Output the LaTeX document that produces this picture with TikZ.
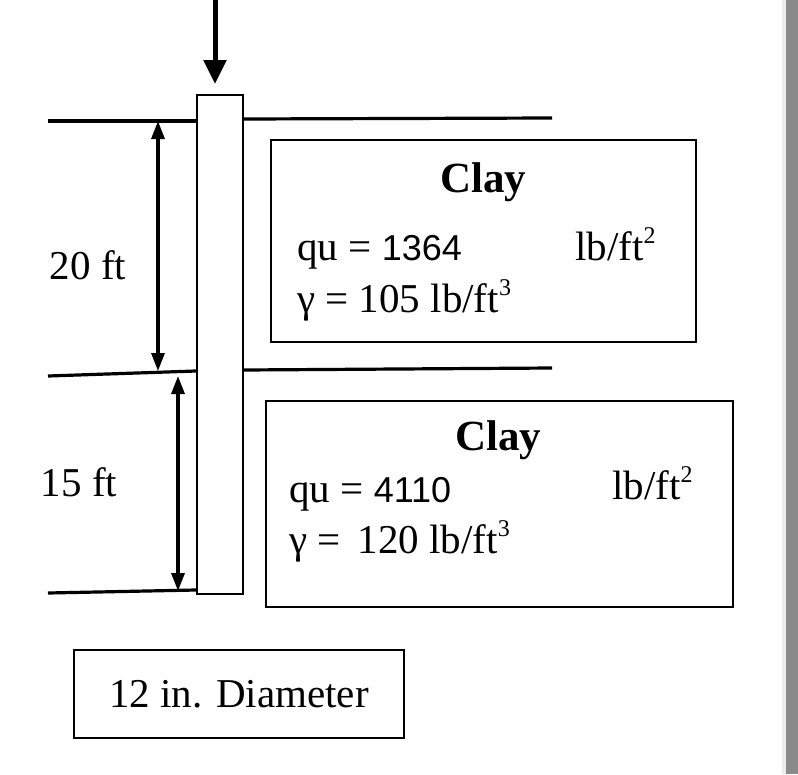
\documentclass[tikz,border=0pt]{standalone}
\usepackage{fontspec}
\setmainfont{Liberation Serif}
\newfontfamily\arialf{Liberation Sans}
\usetikzlibrary{arrows.meta}
\newcommand{\supx}[1]{\raisebox{0.9ex}{\fontsize{24}{28}\selectfont #1}}
\begin{document}
\begin{tikzpicture}[x=1pt,y=-1pt,
  ln/.style={line width=3.2pt},
  box/.style={draw,line width=2pt},
  dim/.style={line width=3.2pt,{Triangle[length=18pt,width=13pt]}-{Triangle[length=18pt,width=13pt]}},
  txt/.style={font=\fontsize{41}{48}\selectfont,inner sep=0pt}]
\useasboundingbox (0,0) rectangle (798,774);
\fill[gray!15] (782,0) rectangle (786,774);
\fill[black!46] (786,0) rectangle (798,774);
\coordinate (a0) at (215,0);
\node[draw,line width=2pt,minimum width=46pt,minimum height=499pt,inner sep=0pt,anchor=north west] (pile) at (196,94) {};
\draw[line width=5pt,-{Triangle[length=24pt,width=22pt]}] (a0) -- (215,84);
\draw[ln] (48,121) -- (pile.west |- 0,121);
\draw[ln] (pile.east |- 0,119) -- (552,118);
\draw[ln] (48,376) -- (pile.west |- 0,371);
\draw[ln] (pile.east |- 0,370) -- (552,368);
\draw[ln] (48,593) -- (pile.west |- 0,590);
\coordinate (d1a) at (158,121); \coordinate (d1b) at (158,371);
\coordinate (d2a) at (178,376); \coordinate (d2b) at (178,591);
\draw[dim] (d1a) -- (d1b);
\draw[dim] (d2a) -- (d2b);
\node[txt] (l20) at (88,265) {20 ft};
\node[txt] (l15) at (79,482) {15 ft};
\node[box,minimum width=425pt,minimum height=202pt,anchor=north west] (b1) at (270,139) {};
\node[txt,font=\fontsize{43}{48}\selectfont\bfseries] (c1) at (483,182) {Clay};
\node[txt,anchor=base west] (q1) at (297,260) {qu = {\arialf\fontsize{36}{42}\selectfont 1364}};
\node[txt,anchor=base west] (u1) at (575,260) {lb/ft\supx{2}};
\node[txt,anchor=base west] (g1) at (297,312) {γ = 105 lb/ft\supx{3}};
\node[box,minimum width=467pt,minimum height=206pt,anchor=north west] (b2) at (265,400) {};
\node[txt,font=\fontsize{43}{48}\selectfont\bfseries] (c2) at (498,440) {Clay};
\node[txt,anchor=base west] (q2) at (289,502) {qu = {\arialf\fontsize{36}{42}\selectfont 4110}};
\node[txt,anchor=base west] (u2) at (612,499) {lb/ft\supx{2}};
\node[txt,anchor=base west] (g2) at (289,553) {γ =\, 120 lb/ft\supx{3}};
\node[box,minimum width=330pt,minimum height=88pt,anchor=north west] (b3) at (73,649) {};
\node[txt] (dia) at (b3.center) {12 in. Diameter};
\end{tikzpicture}
\end{document}
